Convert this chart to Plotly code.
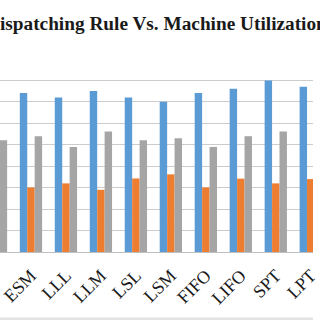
import plotly.graph_objects as go

categories = ["ESL", "ESM", "LLL", "LLM", "LSL", "LSM", "FIFO", "LIFO", "SPT", "LPT"]
machine_1 = [73, 74.1, 72.1, 75.1, 72.1, 70.1, 74.1, 76.1, 80.0, 77.1]
machine_2 = [31, 30.1, 32.0, 29.0, 34.3, 36.2, 30.1, 34.2, 32.0, 34.0]
machine_3 = [52.1, 54.0, 49.0, 56.2, 52.1, 53.1, 49.0, 54.0, 56.2, 53.0]

colors = ["#5B9BD5", "#ED7D31", "#A5A5A5"]
names = ["Machine 1", "Machine 2", "Machine 3"]
title_text = "Dispatching Rule Vs. Machine Utilization"

fig = go.Figure()
for name, vals, c in zip(names, [machine_1, machine_2, machine_3], colors):
    fig.add_trace(go.Bar(x=categories, y=vals, name=name, marker_color=c,
                         marker_line_width=0))

fig.update_layout(
    width=320, height=320,
    margin=dict(l=0, r=0, t=59.4, b=68.3, pad=0),
    plot_bgcolor="white", paper_bgcolor="white",
    barmode="group", bargap=0.3625, bargroupgap=0,
    showlegend=False,
    xaxis=dict(type="category", categoryorder="array", categoryarray=categories,
               range=[0.115, 9.064], tickangle=-45,
               tickfont=dict(family="Liberation Serif", size=18, color="#1a1a1a"),
               ticklabelstandoff=5,
               showline=True, linecolor="#bfbfbf", linewidth=1,
               ticks="", showgrid=False),
    yaxis=dict(range=[0, 90], dtick=10, showticklabels=False,
               showgrid=True, gridcolor="#cccccc", gridwidth=1,
               zeroline=False, ticks=""),
    annotations=[dict(text="<b>" + title_text + "</b>", xref="paper", yref="paper",
                      x=160.2 / 320, y=(251.7 - 24.5) / 192.3, xanchor="center", yanchor="middle",
                      showarrow=False,
                      font=dict(family="Liberation Serif", size=19.3, color="#1a1a1a"))],
    shapes=[dict(type="line", xref="paper", yref="paper",
                 x0=0, x1=1, y0=-(318.5 - 251.7) / 192.3, y1=-(318.5 - 251.7) / 192.3,
                 line=dict(color="#e3e3e3", width=3))],
)

fig.write_html("out.html")
